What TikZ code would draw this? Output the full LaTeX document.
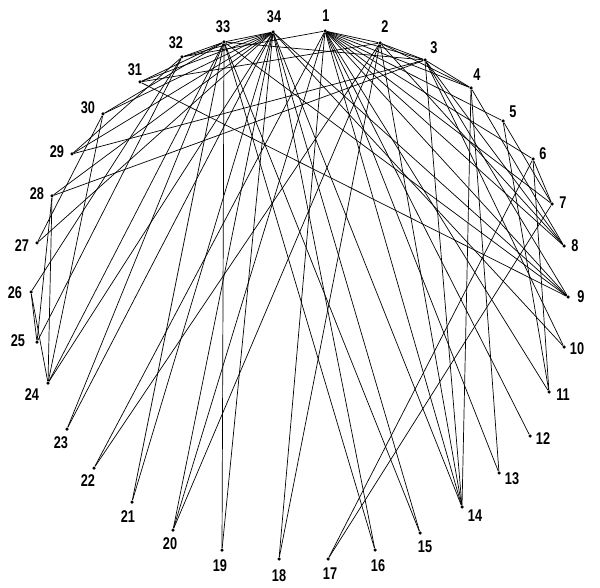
\documentclass[tikz,border=0pt]{standalone}
\usepackage{fontspec}
\setmainfont{Liberation Sans}[FakeStretch=0.75]

\begin{document}
\begin{tikzpicture}[x=1pt,y=-1pt,
  vert/.style={circle,fill,inner sep=0pt,minimum size=3.5pt},
  lab/.style={inner sep=0pt,font=\bfseries\fontsize{17}{17}\selectfont},
  edge/.style={line width=0.7pt}]
\useasboundingbox (0,0) rectangle (600,588);
% members around the circle: number / dot x / dot y / label x / label y
\foreach \n/\x/\y/\lx/\ly in {1/325/31/326/16, 2/380/43/385/27, 3/425/60/434/48,
  4/471/88/477/75, 5/503/121/513/112, 6/533/159/543/154, 7/552/204/563/203,
  8/564/246/575/246, 9/568/297/581/297, 10/564/347/577/349, 11/549/392/563/395,
  12/530/436/543/439, 13/499/473/512/479, 14/462/507/475/516, 15/420/533/425/547,
  16/375/550/378/566, 17/328/559/330/574, 18/279/559/279/576, 19/222/550/220/566,
  20/173/530/170/544, 21/132/502/128/517, 22/94/468/88/481, 23/67/429/61/443,
  24/48/383/32/395, 25/37/342/18/341, 26/31/292/15/293, 27/37/243/22/246,
  28/52/196/37/194, 29/72/154/57/152, 30/103/114/88/108, 31/140/82/135/70,
  32/182/57/176/43, 33/224/42/223/27, 34/273/32/274/17}
  {\node[vert] (v\n) at (\x,\y) {};
  \node[lab] (l\n) at (\lx,\ly) {\n};}
% ties between members
\foreach \a/\b in {1/2,1/3,1/4,1/5,1/6,1/7,1/8,1/9,1/11,1/12,1/13,1/14,1/18,1/20,1/22,1/32,
  2/3,2/4,2/8,2/14,2/18,2/20,2/22,2/31,
  3/4,3/8,3/9,3/10,3/14,3/28,3/29,3/33,
  4/8,4/13,4/14,5/7,5/11,6/7,6/11,6/17,7/17,
  9/31,9/33,9/34,10/34,14/34,15/33,15/34,16/33,16/34,19/33,19/34,20/34,
  21/33,21/34,23/33,23/34,24/26,24/28,24/30,24/33,24/34,25/26,25/28,25/32,
  26/32,27/30,27/34,28/34,29/32,29/34,30/33,30/34,31/33,31/34,32/33,32/34,33/34}
  \draw[edge] (v\a) -- (v\b);
\end{tikzpicture}
\end{document}
